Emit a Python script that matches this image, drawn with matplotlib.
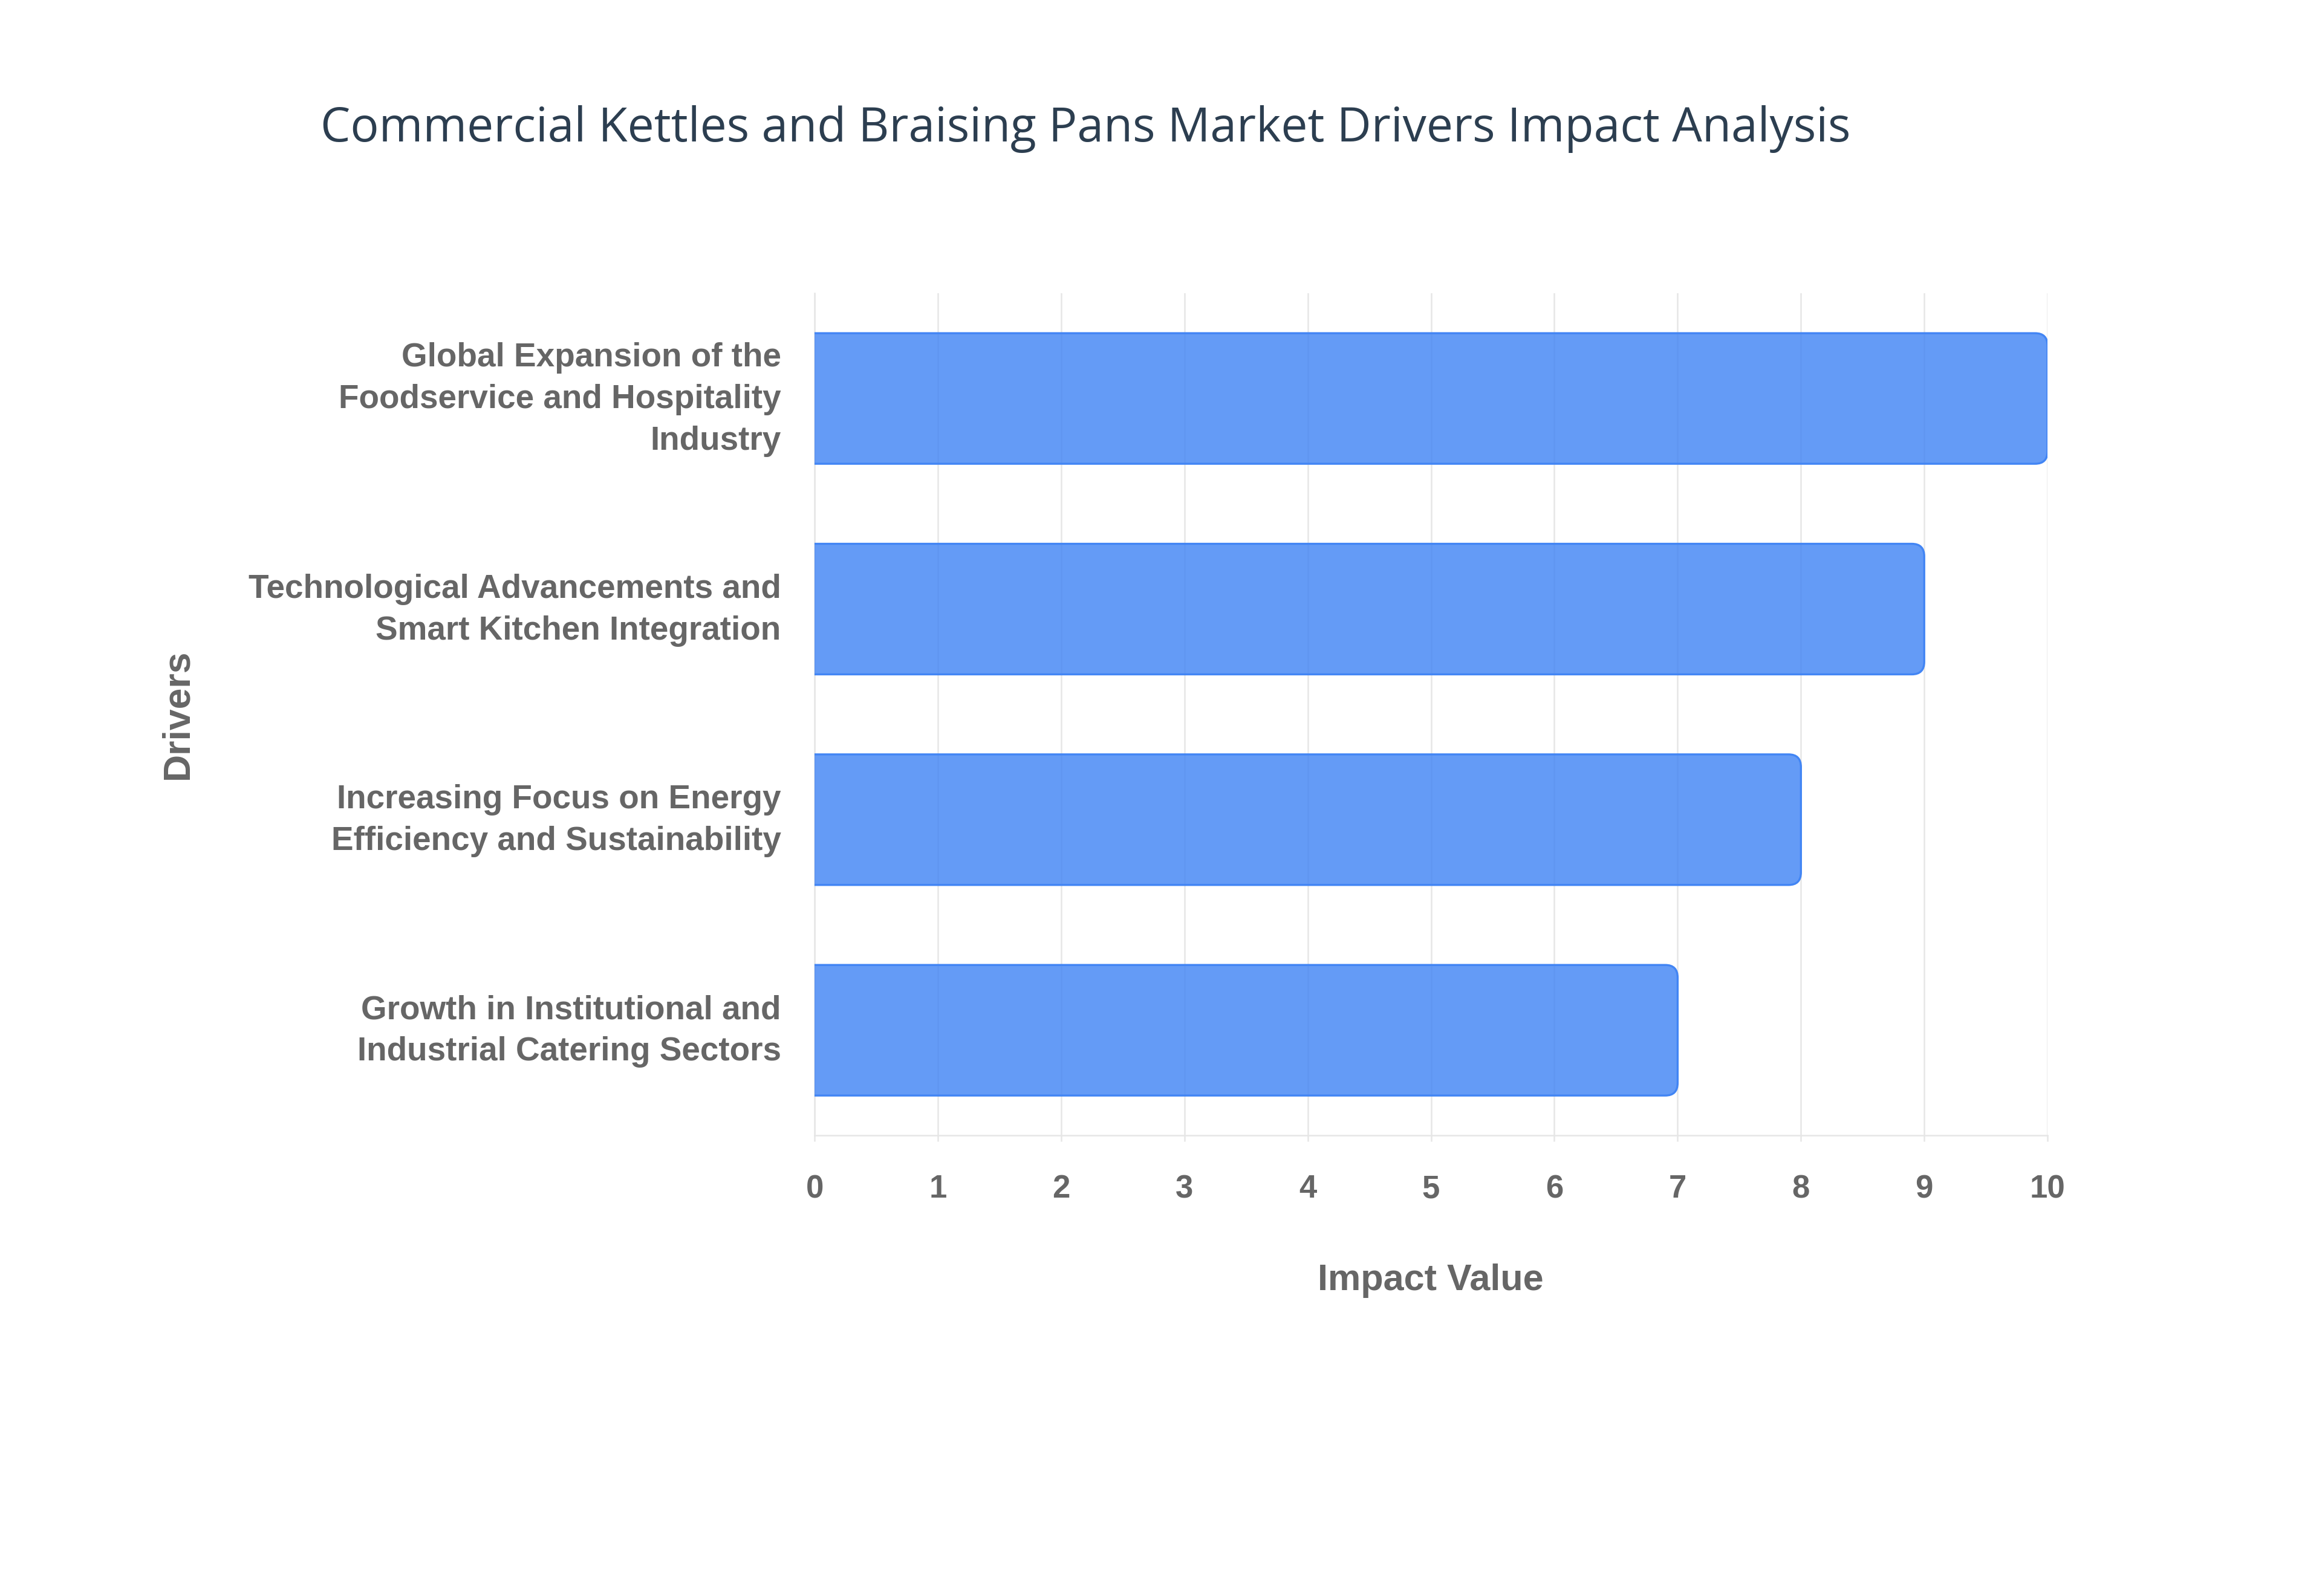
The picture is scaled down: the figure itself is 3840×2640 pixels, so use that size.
import matplotlib
matplotlib.use("Agg")
import matplotlib.pyplot as plt
import matplotlib.transforms as mtransforms
from matplotlib.patches import FancyBboxPatch

# drivers listed top to bottom, with their impact scores
drivers = [
    "Global Expansion of the\nFoodservice and Hospitality\nIndustry",
    "Technological Advancements and\nSmart Kitchen Integration",
    "Increasing Focus on Energy\nEfficiency and Sustainability",
    "Growth in Institutional and\nIndustrial Catering Sectors",
]
impact = [10, 9, 8, 7]
x_ticks = list(range(0, 11))

title = "Commercial Kettles and Braising Pans Market Drivers Impact Analysis"

GRID = "#e6e6e6"
LABEL = "#666666"
BLUE = "#4285F4"

fig = plt.figure(figsize=(38.4, 26.4), dpi=100)
ax = fig.add_axes([0.3508, 0.2885, 0.531, 0.5278])

pos = list(range(len(drivers)))
bars = ax.barh(pos, impact, height=0.62, color=BLUE)
ax.set_ylim(len(drivers) - 0.5, -0.5)
ax.set_xlim(0, 10)

# swap plain bars for ones rounded on the right end
for b in bars:
    b.set_visible(False)
    x0, y0 = b.get_x(), b.get_y()
    w, h = b.get_width(), b.get_height()
    p = FancyBboxPatch((x0 - 0.5, y0), w + 0.5, h,
                       boxstyle="round,pad=0,rounding_size=0.1",
                       mutation_aspect=0.6,
                       facecolor=BLUE, alpha=0.82, edgecolor="none", zorder=3)
    ax.add_patch(p)
    e = FancyBboxPatch((x0 - 0.5, y0), w + 0.5, h,
                       boxstyle="round,pad=0,rounding_size=0.1",
                       mutation_aspect=0.6,
                       facecolor="none", edgecolor=BLUE, linewidth=2.4, zorder=4)
    ax.add_patch(e)

ax.set_xticks(x_ticks)
ax.set_yticks(pos)
ax.set_yticklabels(drivers, linespacing=1.42, ha="right")
ax.grid(axis="x", color=GRID, linewidth=1.8, zorder=0)
ax.set_axisbelow(True)
for s in ("top", "right"):
    ax.spines[s].set_visible(False)
for s in ("left", "bottom"):
    ax.spines[s].set_color(GRID)
    ax.spines[s].set_linewidth(1.8)
ax.tick_params(axis="y", length=0, pad=40)
ax.tick_params(axis="x", length=7, width=1.8, color=GRID, pad=39)
lift = mtransforms.ScaledTranslation(0, 9 / 72, fig.dpi_scale_trans)
for lab in ax.get_yticklabels():
    lab.set_fontsize(39.5)
    lab.set_transform(lab.get_transform() + lift)
for lab in ax.get_xticklabels():
    lab.set_fontsize(38)
for lab in ax.get_xticklabels() + ax.get_yticklabels():
    lab.set_fontfamily("Liberation Sans")
    lab.set_fontweight("bold")
    lab.set_color(LABEL)

fig.text(0.616, 0.1976, "Impact Value", ha="center", va="center",
         fontsize=44, fontweight="bold", color=LABEL, family="Liberation Sans")
fig.text(0.0765, 0.5524, "Drivers", ha="center", va="center", rotation=90,
         fontsize=45, fontweight="bold", color=LABEL, family="Liberation Sans")
fig.text(0.138, 0.919, title, ha="left", va="center",
         fontsize=56.5, color="#2c3e50", family="Open Sans")

fig.savefig("out.png", dpi=100, facecolor="white")
